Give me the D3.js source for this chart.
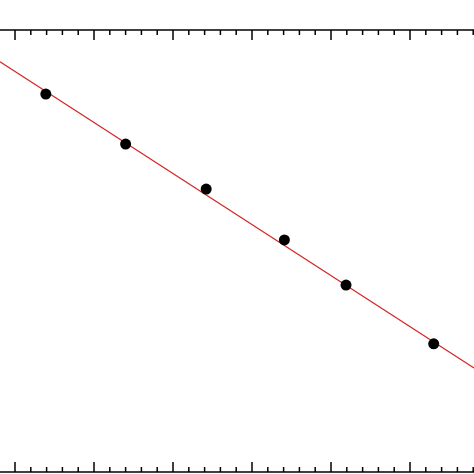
<!DOCTYPE html>
<html><head><meta charset="utf-8">
<script src="https://cdn.jsdelivr.net/npm/d3@7.9.0/dist/d3.min.js"></script>
<style>body{margin:0;background:#fff}</style></head>
<body><svg id="chart" width="474" height="474"></svg>
<script>
const xs = [0.39, 1.40, 2.42, 3.41, 4.19, 5.30];
const ys = [8.55, 7.42, 6.40, 5.25, 4.23, 2.90];
const fitIntercept = 9.06, fitSlope = -1.154;

const svg = d3.select('#chart');
const x = d3.scaleLinear().domain([-0.19, 5.81]).range([0, 474]);
const y = d3.scaleLinear().domain([0, 10]).range([472, 30]);

// frame lines
svg.append('line').attr('x1', 0).attr('x2', 474).attr('y1', 30).attr('y2', 30).attr('stroke', '#000').attr('stroke-width', 1.5);
svg.append('line').attr('x1', 0).attr('x2', 474).attr('y1', 472).attr('y2', 472).attr('stroke', '#000').attr('stroke-width', 1.5);

const majors = d3.range(0, 6, 1);
const minors = d3.range(-0.2, 5.81, 0.2).filter(v => Math.abs(v - Math.round(v)) > 1e-6);
const topAx = svg.append('g').attr('transform', 'translate(0,30)');
const botAx = svg.append('g').attr('transform', 'translate(0,472)');
for (const [g, dir] of [[topAx, 1], [botAx, -1]]) {
  g.selectAll('.maj').data(majors).join('line')
    .attr('x1', d => x(d)).attr('x2', d => x(d)).attr('y1', 0).attr('y2', dir * 10)
    .attr('stroke', '#000').attr('stroke-width', 1.5);
  g.selectAll('.min').data(minors).join('line')
    .attr('x1', d => x(d)).attr('x2', d => x(d)).attr('y1', 0).attr('y2', dir * 5)
    .attr('stroke', '#000').attr('stroke-width', 1.5);
}

const [x0, x1] = x.domain();
svg.append('line')
  .attr('x1', x(x0)).attr('y1', y(fitIntercept + fitSlope * x0))
  .attr('x2', x(x1)).attr('y2', y(fitIntercept + fitSlope * x1))
  .attr('stroke', '#d62728').attr('stroke-width', 1.2);

svg.selectAll('circle').data(xs).join('circle')
  .attr('cx', d => x(d)).attr('cy', (d, i) => y(ys[i])).attr('r', 5.5).attr('fill', '#000');
</script></body></html>
